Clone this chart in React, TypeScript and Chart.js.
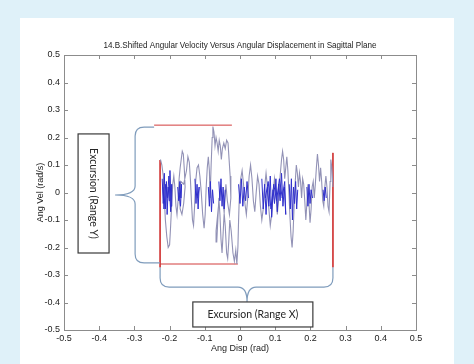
import React, { useEffect, useRef } from 'react';
import { Chart, registerables } from 'chart.js';

Chart.register(...registerables);

const TITLE = '14.B.Shifted Angular Velocity Versus Angular Displacement in Sagittal Plane';
const X_LABEL = 'Ang Disp (rad)';
const Y_LABEL = 'Ang Vel (rad/s)';
const RANGE_X_TEXT = 'Excursion (Range X)';
const RANGE_Y_TEXT = 'Excursion (Range Y)';

const X_TICKS = [-0.5, -0.4, -0.3, -0.2, -0.1, 0, 0.1, 0.2, 0.3, 0.4, 0.5];
const Y_TICKS = [-0.5, -0.4, -0.3, -0.2, -0.1, 0, 0.1, 0.2, 0.3, 0.4, 0.5];

// Full trajectory (angular displacement, angular velocity)
const trajDisp = [
  -0.226, -0.222, -0.218, -0.215, -0.212, -0.208, -0.204, -0.2, -0.197, -0.194,
  -0.191, -0.188, -0.185, -0.182, -0.179, -0.176, -0.173, -0.17, -0.167, -0.164,
  -0.161, -0.158, -0.156, -0.16, -0.165, -0.17, -0.172, -0.168, -0.16, -0.152,
  -0.148, -0.144, -0.141, -0.138, -0.135, -0.132, -0.129, -0.126, -0.122, -0.118,
  -0.114, -0.11, -0.106, -0.102, -0.099, -0.096, -0.093, -0.09, -0.087, -0.085,
  -0.082, -0.079, -0.077, -0.074, -0.071, -0.068, -0.065, -0.062, -0.059, -0.056,
  -0.053, -0.05, -0.046, -0.042, -0.038, -0.034, -0.031, -0.028, -0.026, -0.03,
  -0.036, -0.04, -0.044, -0.048, -0.051, -0.054, -0.057, -0.06, -0.063, -0.066,
  -0.068, -0.062, -0.055, -0.048, -0.042, -0.038, -0.035, -0.032, -0.029, -0.025,
  -0.02, -0.016, -0.012, -0.009, -0.006, -0.004, -0.002, 0.002, 0.006, 0.01,
  0.014, 0.018, 0.022, 0.026, 0.03, 0.034, 0.038, 0.042, 0.046, 0.05,
  0.054, 0.058, 0.062, 0.066, 0.07, 0.074, 0.078, 0.082, 0.086, 0.09,
  0.094, 0.098, 0.102, 0.106, 0.11, 0.114, 0.118, 0.121, 0.124, 0.127,
  0.13, 0.133, 0.136, 0.139, 0.142, 0.145, 0.148, 0.151, 0.154, 0.157,
  0.16, 0.163, 0.166, 0.169, 0.172, 0.175, 0.178, 0.181, 0.184, 0.187,
  0.19, 0.193, 0.196, 0.199, 0.202, 0.205, 0.208, 0.211, 0.214, 0.217,
  0.22, 0.223, 0.226, 0.229, 0.232, 0.235, 0.238, 0.241, 0.244, 0.247,
  0.25, 0.253, 0.256, 0.258, 0.261, 0.264,
];
const trajVel = [
  0.12, 0.1, 0.06, -0.02, -0.1, -0.16, -0.2, -0.19, -0.12, -0.04,
  0.03, 0.06, 0.02, -0.05, -0.08, -0.03, 0.05, 0.09, 0.12, 0.15,
  0.14, 0.08, 0.02, -0.04, -0.08, -0.06, 0.0, 0.04, 0.03, 0.08,
  0.13, 0.11, 0.05, -0.03, -0.1, -0.12, -0.05, 0.04, 0.09, 0.1,
  0.06, 0.0, -0.08, -0.13, -0.08, 0.02, 0.09, 0.13, 0.08, -0.02,
  0.1, 0.2, 0.24, 0.22, 0.17, 0.2, 0.18, 0.15, 0.19, 0.17,
  0.12, 0.16, 0.18, 0.16, 0.19, 0.18, 0.12, 0.06, -0.02, -0.08,
  -0.03, 0.03, -0.05, -0.15, -0.22, -0.17, -0.08, -0.02, -0.1, -0.18,
  -0.14, -0.06, 0.02, -0.03, -0.12, -0.22, -0.24, -0.18, -0.1, -0.14,
  -0.22, -0.25, -0.21, -0.26, -0.2, -0.1, -0.02, 0.05, 0.08, 0.03,
  -0.04, -0.08, -0.02, 0.06, 0.1, 0.05, -0.03, -0.07, 0.0, 0.06,
  0.03, -0.05, -0.1, -0.06, 0.02, 0.07, 0.02, -0.06, -0.12, -0.08,
  0.0, 0.05, 0.0, -0.08, -0.02, 0.06, 0.12, 0.15, 0.12, 0.05,
  0.09, 0.13, 0.08, 0.0, -0.09, -0.16, -0.2, -0.14, -0.04, 0.04,
  0.1, 0.07, 0.02, 0.07, 0.04, -0.02, 0.05, 0.03, -0.03, -0.1,
  -0.04, 0.03, -0.04, -0.11, -0.06, 0.02, 0.04, -0.02, 0.03, 0.09,
  0.14, 0.1, 0.04, 0.09, 0.04, -0.03, -0.05, 0.02, 0.06, 0.02,
  -0.05, -0.07, 0.04, 0.12, 0.09, 0.02,
];

// Dense small oscillation clusters (null = break)
const denseDisp = [
  -0.221, -0.218, -0.215, -0.212, -0.209, -0.207, -0.204, -0.201, -0.199, -0.196, -0.194, -0.197, -0.202, -0.206, -0.211, -0.216, -0.219, null,
  -0.177, -0.174, -0.171, -0.168, -0.166, -0.169, -0.173, null,
  -0.128, -0.125, -0.122, -0.119, -0.116, -0.12, null,
  -0.09, -0.087, -0.084, -0.081, -0.078, -0.075, null,
  -0.06, -0.057, -0.054, -0.051, -0.048, -0.045, -0.042, null,
  -0.004, 0.0, 0.004, 0.008, 0.012, 0.016, 0.02, 0.024, null,
  0.062, 0.066, 0.07, 0.074, 0.078, 0.082, 0.086, 0.09, 0.094, 0.098, 0.102, 0.106, 0.11, 0.114, 0.118, 0.122, 0.126, 0.13, 0.127, 0.12, 0.112, 0.104, 0.096, 0.088, 0.08, 0.072, null,
  0.14, 0.143, 0.146, 0.149, 0.152, 0.155, 0.158, 0.161, 0.164, null,
  0.19, 0.193, 0.196, 0.199, 0.202, 0.206, null,
  0.236, 0.239, 0.242, 0.245,
];
const denseVel = [
  0.05, -0.04, 0.07, -0.06, 0.04, -0.08, 0.02, -0.03, 0.08, -0.05, 0.03, -0.07, 0.06, -0.02, 0.03, -0.06, 0.02, null,
  0.02, -0.03, 0.04, -0.02, 0.03, -0.05, 0.0, null,
  0.05, -0.04, 0.03, -0.06, 0.02, -0.02, null,
  0.02, -0.05, 0.04, -0.07, 0.01, -0.04, null,
  0.04, -0.03, 0.05, -0.05, 0.02, -0.06, 0.01, null,
  0.03, -0.04, 0.05, -0.05, 0.02, -0.03, 0.04, -0.02, null,
  0.05, -0.06, 0.03, -0.08, 0.02, -0.05, 0.06, -0.09, 0.01, -0.04, 0.05, -0.07, 0.03, -0.03, 0.07, -0.05, 0.02, -0.08, 0.04, -0.02, 0.05, -0.03, 0.03, -0.06, 0.04, -0.02, null,
  0.03, -0.06, 0.05, -0.1, 0.02, -0.04, 0.04, -0.06, 0.01, null,
  0.02, -0.05, 0.03, -0.04, 0.01, -0.02, null,
  0.01, -0.03, 0.02, -0.02,
];

// Red range-marker lines
const rangeDisp = [-0.244, -0.023, null, -0.227, -0.006, null, -0.227, -0.227, null, 0.264, 0.264];
const rangeVel = [0.245, 0.245, null, -0.26, -0.26, null, 0.118, -0.272, null, 0.144, -0.272];

const FONT = "'Liberation Sans', Arial, sans-serif";
const TEXT = '#222222';
const AXIS = '#8c8c8c';
const BRACE = '#7f9cbc';

function toPoints(xs: (number | null)[], ys: (number | null)[]) {
  return xs.map((x, i) => ({ x, y: ys[i] }));
}

const decor = {
  id: 'decor',
  beforeDraw(chart: any) {
    const { ctx } = chart;
    ctx.save();
    ctx.fillStyle = '#ffffff';
    ctx.fillRect(20, 18, 434, 346);
    ctx.restore();
  },
  afterDraw(chart: any) {
    const { ctx, chartArea: a } = chart;
    const xs = chart.scales.x;
    const ys = chart.scales.y;
    const X = (v: number) => xs.getPixelForValue(v);
    const Y = (v: number) => ys.getPixelForValue(v);
    ctx.save();
    // title (condensed look)
    ctx.font = "9.5px 'Liberation Sans', Arial, sans-serif";
    ctx.fillStyle = TEXT;
    ctx.textAlign = 'center';
    ctx.textBaseline = 'middle';
    const tw = ctx.measureText(TITLE).width;
    const sx = Math.min(1, 273 / tw);
    ctx.save();
    ctx.translate((a.left + a.right) / 2, 45);
    ctx.scale(sx, 1);
    ctx.fillText(TITLE, 0, 0);
    ctx.restore();

    // axes box
    ctx.strokeStyle = AXIS;
    ctx.lineWidth = 1;
    ctx.strokeRect(Math.round(a.left) + 0.5, Math.round(a.top) + 0.5, Math.round(a.right - a.left), Math.round(a.bottom - a.top));
    // inward ticks
    ctx.beginPath();
    X_TICKS.forEach((v) => {
      const px = Math.round(X(v)) + 0.5;
      ctx.moveTo(px, a.bottom); ctx.lineTo(px, a.bottom - 4);
      ctx.moveTo(px, a.top); ctx.lineTo(px, a.top + 4);
    });
    Y_TICKS.forEach((v) => {
      const py = Math.round(Y(v)) + 0.5;
      ctx.moveTo(a.left, py); ctx.lineTo(a.left + 4, py);
      ctx.moveTo(a.right, py); ctx.lineTo(a.right - 4, py);
    });
    ctx.stroke();

    // Brace Y
    ctx.strokeStyle = BRACE;
    ctx.lineWidth = 1.2;
    const bx = X(-0.298);
    const tipX = X(-0.355);
    const yTop = Y(0.238);
    const yBot = Y(-0.256);
    const yMid = Y(-0.009);
    const r = 9;
    ctx.beginPath();
    ctx.moveTo(X(-0.244), yTop);
    ctx.lineTo(bx + r, yTop);
    ctx.quadraticCurveTo(bx, yTop, bx, yTop + r);
    ctx.lineTo(bx, yMid - r);
    ctx.quadraticCurveTo(bx, yMid, tipX, yMid);
    ctx.quadraticCurveTo(bx, yMid, bx, yMid + r);
    ctx.lineTo(bx, yBot - r);
    ctx.quadraticCurveTo(bx, yBot, bx + r, yBot);
    ctx.lineTo(X(-0.227), yBot);
    ctx.stroke();

    // Brace X
    const lx = X(-0.227);
    const rx = X(0.264);
    const hy = Y(-0.344);
    const startY = Y(-0.272);
    const tipPX = X(0.02);
    const tipPY = Y(-0.398);
    ctx.beginPath();
    ctx.moveTo(lx, startY);
    ctx.lineTo(lx, hy - r);
    ctx.quadraticCurveTo(lx, hy, lx + r, hy);
    ctx.lineTo(tipPX - r, hy);
    ctx.quadraticCurveTo(tipPX, hy, tipPX, tipPY);
    ctx.quadraticCurveTo(tipPX, hy, tipPX + r, hy);
    ctx.lineTo(rx - r, hy);
    ctx.quadraticCurveTo(rx, hy, rx, hy - r);
    ctx.lineTo(rx, startY);
    ctx.stroke();

    // Text boxes
    ctx.strokeStyle = '#3a3a3a';
    ctx.lineWidth = 1.2;
    ctx.fillStyle = '#ffffff';
    const b1 = { l: X(-0.134), r: X(0.207), t: Y(-0.398), b: Y(-0.489) };
    ctx.fillRect(b1.l, b1.t, b1.r - b1.l, b1.b - b1.t);
    ctx.strokeRect(b1.l, b1.t, b1.r - b1.l, b1.b - b1.t);
    const b2 = { l: X(-0.46), r: X(-0.372), t: Y(0.213), b: Y(-0.22) };
    ctx.fillRect(b2.l, b2.t, b2.r - b2.l, b2.b - b2.t);
    ctx.strokeRect(b2.l, b2.t, b2.r - b2.l, b2.b - b2.t);

    ctx.fillStyle = '#262626';
    ctx.font = "10.5px Lato, 'Open Sans', sans-serif";
    ctx.textAlign = 'center';
    ctx.textBaseline = 'middle';
    ctx.fillText(RANGE_X_TEXT, (b1.l + b1.r) / 2, (b1.t + b1.b) / 2 + 0.5);
    ctx.translate((b2.l + b2.r) / 2, (b2.t + b2.b) / 2);
    ctx.rotate(Math.PI / 2);
    ctx.fillText(RANGE_Y_TEXT, 0, 0);
    ctx.restore();
  },
};

export default function App() {
  const ref = useRef<HTMLCanvasElement>(null);
  useEffect(() => {
    if (!ref.current) return;
    const chart = new Chart(ref.current, {
      type: 'scatter',
      data: {
        datasets: [
          {
            label: 'dense',
            data: toPoints(denseDisp, denseVel) as any,
            showLine: true,
            borderColor: '#2f2fcc',
            borderWidth: 1,
            pointRadius: 0,
            spanGaps: false,
            tension: 0,
          },
          {
            label: 'trajectory',
            data: toPoints(trajDisp, trajVel) as any,
            showLine: true,
            borderColor: '#9292b6',
            borderWidth: 1.1,
            pointRadius: 0,
            tension: 0,
          },
          {
            label: 'range',
            data: toPoints(rangeDisp, rangeVel) as any,
            showLine: true,
            borderColor: '#d23c3c',
            borderWidth: 1,
            pointRadius: 0,
            spanGaps: false,
          },
        ],
      },
      options: {
        animation: false,
        responsive: false,
        devicePixelRatio: 1,
        layout: { padding: { left: 0, right: 58, top: 55, bottom: 4 } },
        plugins: {
          legend: { display: false },
          tooltip: { enabled: false },
          title: { display: false },
        },
        scales: {
          x: {
            type: 'linear',
            position: 'bottom',
            min: -0.5,
            max: 0.5,
            afterBuildTicks: (s: any) => { s.ticks = X_TICKS.map((v) => ({ value: v })); },
            afterFit: (s: any) => { s.height = 30; },
            grid: { display: false, drawTicks: false },
            border: { display: false },
            ticks: {
              color: TEXT,
              font: { family: FONT, size: 9 },
              padding: 3,
              autoSkip: false,
              maxRotation: 0,
              callback: (v: any) => String(v),
            },
            title: {
              display: true,
              text: X_LABEL,
              color: TEXT,
              font: { family: FONT, size: 9 },
              padding: { top: 0, bottom: 6 },
            },
          },
          y: {
            type: 'linear',
            position: 'left',
            min: -0.5,
            max: 0.5,
            afterBuildTicks: (s: any) => { s.ticks = Y_TICKS.map((v) => ({ value: v })); },
            afterFit: (s: any) => { s.width = 64; },
            grid: { display: false, drawTicks: false },
            border: { display: false },
            ticks: {
              color: TEXT,
              font: { family: FONT, size: 9 },
              padding: 4,
              autoSkip: false,
              callback: (v: any) => String(v),
            },
            title: {
              display: true,
              text: Y_LABEL,
              color: TEXT,
              font: { family: FONT, size: 9 },
              padding: { top: 35, bottom: 0 },
            },
          },
        },
      },
      plugins: [decor],
    } as any);
    return () => chart.destroy();
  }, []);

  return (
    <div style={{ position: 'absolute', left: 0, top: 0, width: 474, height: 364, background: '#dff1f9' }}>
      <canvas ref={ref} width={474} height={364} style={{ display: 'block', width: 474, height: 364 }} />
    </div>
  );
}
